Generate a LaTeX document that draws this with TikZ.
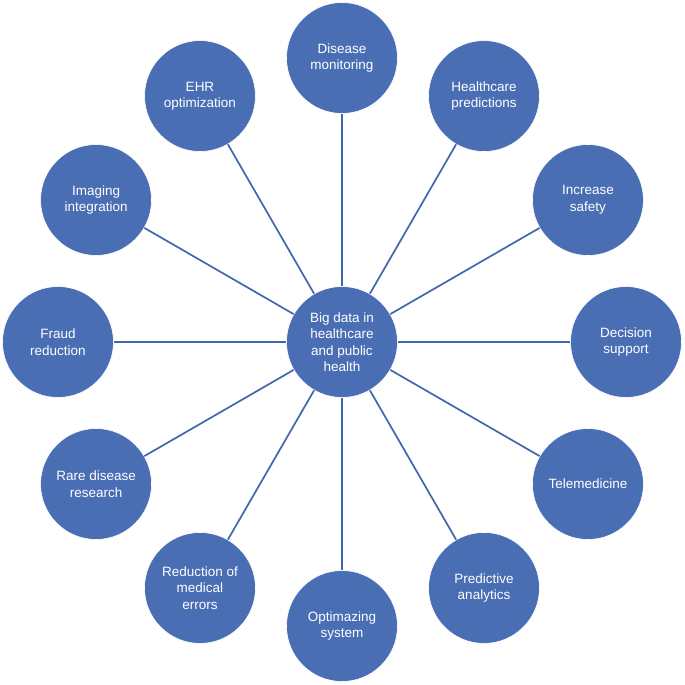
\documentclass[tikz,border=0pt]{standalone}
\usepackage{fontspec}
\setmainfont{Liberation Sans}
\definecolor{bubble}{HTML}{4A6EB4}
\definecolor{spoke}{HTML}{4166AD}
\begin{document}
\begin{tikzpicture}[x=1pt,y=1pt,
  bubblenode/.style={circle,fill=bubble,draw=white,line width=0.6pt,minimum size=111pt,inner sep=0pt,
    text=white,align=center,font=\fontsize{13.5}{16.5}\selectfont},
  spokeline/.style={draw=spoke,line width=1.7pt}]
\useasboundingbox (-342,-343) rectangle (343,342);
\node[bubblenode] (c) at (0,0) {Big data in\\healthcare\\and public\\health};
\node[bubblenode] (n1) at (90:284) {Disease\\monitoring};
\node[bubblenode] (n2) at (60:284) {Healthcare\\predictions};
\node[bubblenode] (n3) at (30:284) {Increase\\safety};
\node[bubblenode] (n4) at (0:284) {Decision\\support};
\node[bubblenode] (n5) at (-30:284) {Telemedicine};
\node[bubblenode] (n6) at (-60:284) {Predictive\\analytics};
\node[bubblenode] (n7) at (-90:284) {Optimazing\\system};
\node[bubblenode] (n8) at (-120:284) {Reduction of\\medical\\errors};
\node[bubblenode] (n9) at (-150:284) {Rare disease\\research};
\node[bubblenode] (n10) at (180:284) {Fraud\\reduction};
\node[bubblenode] (n11) at (150:284) {Imaging\\integration};
\node[bubblenode] (n12) at (120:284) {EHR\\optimization};
\foreach \i in {1,...,12} {\draw[spokeline] (c) -- (n\i);}
\end{tikzpicture}
\end{document}
